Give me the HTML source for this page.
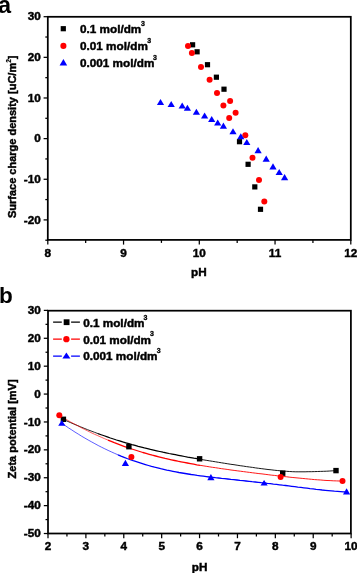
<!DOCTYPE html>
<html><head><meta charset="utf-8"><style>
html,body{margin:0;padding:0;background:#fff;width:357px;height:573px;overflow:hidden}
svg{display:block}
</style></head><body>
<svg width="357" height="573" viewBox="0 0 357 573"><text x="-2" y="12.6" font-size="23.5" font-family="'Liberation Sans', Arial, sans-serif" font-weight="bold">a</text>
<rect x="47.8" y="16.8" width="303.00" height="223.10" fill="none" stroke="#000" stroke-width="1.75"/>
<line x1="43.60" y1="16.70" x2="47.80" y2="16.70" stroke="#000" stroke-width="1.25"/>
<line x1="43.60" y1="57.34" x2="47.80" y2="57.34" stroke="#000" stroke-width="1.25"/>
<line x1="43.60" y1="97.98" x2="47.80" y2="97.98" stroke="#000" stroke-width="1.25"/>
<line x1="43.60" y1="138.62" x2="47.80" y2="138.62" stroke="#000" stroke-width="1.25"/>
<line x1="43.60" y1="179.26" x2="47.80" y2="179.26" stroke="#000" stroke-width="1.25"/>
<line x1="43.60" y1="219.90" x2="47.80" y2="219.90" stroke="#000" stroke-width="1.25"/>
<line x1="45.30" y1="37.02" x2="47.80" y2="37.02" stroke="#000" stroke-width="1.25"/>
<line x1="45.30" y1="77.66" x2="47.80" y2="77.66" stroke="#000" stroke-width="1.25"/>
<line x1="45.30" y1="118.30" x2="47.80" y2="118.30" stroke="#000" stroke-width="1.25"/>
<line x1="45.30" y1="158.94" x2="47.80" y2="158.94" stroke="#000" stroke-width="1.25"/>
<line x1="45.30" y1="199.58" x2="47.80" y2="199.58" stroke="#000" stroke-width="1.25"/>
<line x1="45.30" y1="240.22" x2="47.80" y2="240.22" stroke="#000" stroke-width="1.25"/>
<text transform="translate(40.70,20.30) scale(1.03,1)" text-anchor="end" font-size="11.4" font-family="'Liberation Sans', Arial, sans-serif" font-weight="bold" stroke="#000" stroke-width="0.45">30</text>
<text transform="translate(40.70,60.94) scale(1.03,1)" text-anchor="end" font-size="11.4" font-family="'Liberation Sans', Arial, sans-serif" font-weight="bold" stroke="#000" stroke-width="0.45">20</text>
<text transform="translate(40.70,101.58) scale(1.03,1)" text-anchor="end" font-size="11.4" font-family="'Liberation Sans', Arial, sans-serif" font-weight="bold" stroke="#000" stroke-width="0.45">10</text>
<text transform="translate(40.70,142.22) scale(1.03,1)" text-anchor="end" font-size="11.4" font-family="'Liberation Sans', Arial, sans-serif" font-weight="bold" stroke="#000" stroke-width="0.45">0</text>
<text transform="translate(40.70,182.86) scale(1.03,1)" text-anchor="end" font-size="11.4" font-family="'Liberation Sans', Arial, sans-serif" font-weight="bold" stroke="#000" stroke-width="0.45">-10</text>
<text transform="translate(40.70,223.50) scale(1.03,1)" text-anchor="end" font-size="11.4" font-family="'Liberation Sans', Arial, sans-serif" font-weight="bold" stroke="#000" stroke-width="0.45">-20</text>
<line x1="47.80" y1="239.90" x2="47.80" y2="244.60" stroke="#000" stroke-width="1.25"/>
<line x1="123.55" y1="239.90" x2="123.55" y2="244.60" stroke="#000" stroke-width="1.25"/>
<line x1="199.30" y1="239.90" x2="199.30" y2="244.60" stroke="#000" stroke-width="1.25"/>
<line x1="275.05" y1="239.90" x2="275.05" y2="244.60" stroke="#000" stroke-width="1.25"/>
<line x1="350.80" y1="239.90" x2="350.80" y2="244.60" stroke="#000" stroke-width="1.25"/>
<line x1="85.67" y1="239.90" x2="85.67" y2="242.90" stroke="#000" stroke-width="1.25"/>
<line x1="161.43" y1="239.90" x2="161.43" y2="242.90" stroke="#000" stroke-width="1.25"/>
<line x1="237.18" y1="239.90" x2="237.18" y2="242.90" stroke="#000" stroke-width="1.25"/>
<line x1="312.93" y1="239.90" x2="312.93" y2="242.90" stroke="#000" stroke-width="1.25"/>
<text transform="translate(47.80,256.80) scale(1.03,1)" text-anchor="middle" font-size="11.4" font-family="'Liberation Sans', Arial, sans-serif" font-weight="bold" stroke="#000" stroke-width="0.45">8</text>
<text transform="translate(123.55,256.80) scale(1.03,1)" text-anchor="middle" font-size="11.4" font-family="'Liberation Sans', Arial, sans-serif" font-weight="bold" stroke="#000" stroke-width="0.45">9</text>
<text transform="translate(199.30,256.80) scale(1.03,1)" text-anchor="middle" font-size="11.4" font-family="'Liberation Sans', Arial, sans-serif" font-weight="bold" stroke="#000" stroke-width="0.45">10</text>
<text transform="translate(275.05,256.80) scale(1.03,1)" text-anchor="middle" font-size="11.4" font-family="'Liberation Sans', Arial, sans-serif" font-weight="bold" stroke="#000" stroke-width="0.45">11</text>
<text transform="translate(350.80,256.80) scale(1.03,1)" text-anchor="middle" font-size="11.4" font-family="'Liberation Sans', Arial, sans-serif" font-weight="bold" stroke="#000" stroke-width="0.45">12</text>
<text transform="translate(198.90,276.20) scale(1.03,1)" text-anchor="middle" font-size="11.4" font-family="'Liberation Sans', Arial, sans-serif" font-weight="bold" stroke="#000" stroke-width="0.45">pH</text>
<text transform="translate(16.3,218.1) rotate(-90)" font-size="11" font-family="'Liberation Sans', Arial, sans-serif" font-weight="bold" stroke="#000" stroke-width="0.45">Surface charge density [uC/m<tspan font-size="6.5" dy="-5.6" stroke-width="0.2">2</tspan><tspan dy="5.6">]</tspan></text>
<rect x="190.00" y="42.20" width="5.2" height="5.2" fill="#000"/>
<rect x="194.50" y="49.20" width="5.2" height="5.2" fill="#000"/>
<rect x="204.90" y="62.10" width="5.2" height="5.2" fill="#000"/>
<rect x="213.80" y="74.60" width="5.2" height="5.2" fill="#000"/>
<rect x="221.40" y="86.60" width="5.2" height="5.2" fill="#000"/>
<rect x="236.90" y="139.10" width="5.2" height="5.2" fill="#000"/>
<rect x="245.50" y="161.70" width="5.2" height="5.2" fill="#000"/>
<rect x="252.20" y="184.30" width="5.2" height="5.2" fill="#000"/>
<rect x="257.90" y="206.70" width="5.2" height="5.2" fill="#000"/>
<circle cx="188.00" cy="45.90" r="3.00" fill="#f00"/>
<circle cx="191.90" cy="52.90" r="3.00" fill="#f00"/>
<circle cx="201.00" cy="66.90" r="3.00" fill="#f00"/>
<circle cx="209.60" cy="79.80" r="3.00" fill="#f00"/>
<circle cx="217.00" cy="93.00" r="3.00" fill="#f00"/>
<circle cx="230.10" cy="100.90" r="3.00" fill="#f00"/>
<circle cx="223.40" cy="105.60" r="3.00" fill="#f00"/>
<circle cx="235.60" cy="112.70" r="3.00" fill="#f00"/>
<circle cx="229.20" cy="118.00" r="3.00" fill="#f00"/>
<circle cx="245.30" cy="135.20" r="3.00" fill="#f00"/>
<circle cx="252.50" cy="157.70" r="3.00" fill="#f00"/>
<circle cx="259.00" cy="180.00" r="3.00" fill="#f00"/>
<circle cx="264.30" cy="201.60" r="3.00" fill="#f00"/>
<polygon points="160.50,99.10 164.10,105.00 156.90,105.00" fill="#00f"/>
<polygon points="171.20,100.90 174.80,107.10 167.60,107.10" fill="#00f"/>
<polygon points="182.20,102.60 185.80,108.60 178.60,108.60" fill="#00f"/>
<polygon points="187.40,104.70 191.00,110.70 183.80,110.70" fill="#00f"/>
<polygon points="196.40,108.80 200.00,114.80 192.80,114.80" fill="#00f"/>
<polygon points="204.60,112.60 208.20,118.60 201.00,118.60" fill="#00f"/>
<polygon points="211.70,116.10 215.30,122.00 208.10,122.00" fill="#00f"/>
<polygon points="217.70,119.40 221.30,125.50 214.10,125.50" fill="#00f"/>
<polygon points="223.40,122.60 227.00,128.70 219.80,128.70" fill="#00f"/>
<polygon points="233.00,128.20 236.60,134.20 229.40,134.20" fill="#00f"/>
<polygon points="240.80,133.30 244.40,139.20 237.20,139.20" fill="#00f"/>
<polygon points="246.80,138.90 250.40,144.90 243.20,144.90" fill="#00f"/>
<polygon points="258.10,147.00 261.70,153.30 254.50,153.30" fill="#00f"/>
<polygon points="266.20,155.60 269.80,161.70 262.60,161.70" fill="#00f"/>
<polygon points="273.00,163.30 276.60,169.60 269.40,169.60" fill="#00f"/>
<polygon points="279.20,169.00 282.80,175.00 275.60,175.00" fill="#00f"/>
<polygon points="284.60,173.90 288.20,180.20 281.00,180.20" fill="#00f"/>
<rect x="60.70" y="26.10" width="5.2" height="5.2" fill="#000"/>
<circle cx="63.40" cy="45.90" r="3.05" fill="#f00"/>
<polygon points="63.40,58.90 67.20,65.60 59.60,65.60" fill="#00f"/>
<text transform="translate(80.00,32.90) scale(1.03,1)" text-anchor="start" font-size="11.4" font-family="'Liberation Sans', Arial, sans-serif" font-weight="bold" stroke="#000" stroke-width="0.45">0.1 mol/dm</text>
<text transform="translate(141.00,25.70) scale(1.0,1)" text-anchor="start" font-size="7" font-family="'Liberation Sans', Arial, sans-serif" font-weight="bold" stroke="#000" stroke-width="0.3">3</text>
<text transform="translate(80.00,49.90) scale(1.03,1)" text-anchor="start" font-size="11.4" font-family="'Liberation Sans', Arial, sans-serif" font-weight="bold" stroke="#000" stroke-width="0.45">0.01 mol/dm</text>
<text transform="translate(147.20,42.70) scale(1.0,1)" text-anchor="start" font-size="7" font-family="'Liberation Sans', Arial, sans-serif" font-weight="bold" stroke="#000" stroke-width="0.3">3</text>
<text transform="translate(80.00,66.90) scale(1.03,1)" text-anchor="start" font-size="11.4" font-family="'Liberation Sans', Arial, sans-serif" font-weight="bold" stroke="#000" stroke-width="0.45">0.001 mol/dm</text>
<text transform="translate(153.10,59.70) scale(1.0,1)" text-anchor="start" font-size="7" font-family="'Liberation Sans', Arial, sans-serif" font-weight="bold" stroke="#000" stroke-width="0.3">3</text>
<text x="-1" y="302.7" font-size="22.5" font-family="'Liberation Sans', Arial, sans-serif" font-weight="bold">b</text>
<rect x="48.0" y="310.7" width="302.90" height="222.80" fill="none" stroke="#000" stroke-width="1.75"/>
<line x1="43.80" y1="310.40" x2="48.00" y2="310.40" stroke="#000" stroke-width="1.25"/>
<line x1="43.80" y1="338.29" x2="48.00" y2="338.29" stroke="#000" stroke-width="1.25"/>
<line x1="43.80" y1="366.18" x2="48.00" y2="366.18" stroke="#000" stroke-width="1.25"/>
<line x1="43.80" y1="394.07" x2="48.00" y2="394.07" stroke="#000" stroke-width="1.25"/>
<line x1="43.80" y1="421.96" x2="48.00" y2="421.96" stroke="#000" stroke-width="1.25"/>
<line x1="43.80" y1="449.85" x2="48.00" y2="449.85" stroke="#000" stroke-width="1.25"/>
<line x1="43.80" y1="477.74" x2="48.00" y2="477.74" stroke="#000" stroke-width="1.25"/>
<line x1="43.80" y1="505.63" x2="48.00" y2="505.63" stroke="#000" stroke-width="1.25"/>
<line x1="43.80" y1="533.52" x2="48.00" y2="533.52" stroke="#000" stroke-width="1.25"/>
<line x1="45.50" y1="324.34" x2="48.00" y2="324.34" stroke="#000" stroke-width="1.25"/>
<line x1="45.50" y1="352.23" x2="48.00" y2="352.23" stroke="#000" stroke-width="1.25"/>
<line x1="45.50" y1="380.12" x2="48.00" y2="380.12" stroke="#000" stroke-width="1.25"/>
<line x1="45.50" y1="408.01" x2="48.00" y2="408.01" stroke="#000" stroke-width="1.25"/>
<line x1="45.50" y1="435.90" x2="48.00" y2="435.90" stroke="#000" stroke-width="1.25"/>
<line x1="45.50" y1="463.79" x2="48.00" y2="463.79" stroke="#000" stroke-width="1.25"/>
<line x1="45.50" y1="491.68" x2="48.00" y2="491.68" stroke="#000" stroke-width="1.25"/>
<line x1="45.50" y1="519.58" x2="48.00" y2="519.58" stroke="#000" stroke-width="1.25"/>
<text transform="translate(40.70,314.00) scale(1.03,1)" text-anchor="end" font-size="11.4" font-family="'Liberation Sans', Arial, sans-serif" font-weight="bold" stroke="#000" stroke-width="0.45">30</text>
<text transform="translate(40.70,341.89) scale(1.03,1)" text-anchor="end" font-size="11.4" font-family="'Liberation Sans', Arial, sans-serif" font-weight="bold" stroke="#000" stroke-width="0.45">20</text>
<text transform="translate(40.70,369.78) scale(1.03,1)" text-anchor="end" font-size="11.4" font-family="'Liberation Sans', Arial, sans-serif" font-weight="bold" stroke="#000" stroke-width="0.45">10</text>
<text transform="translate(40.70,397.67) scale(1.03,1)" text-anchor="end" font-size="11.4" font-family="'Liberation Sans', Arial, sans-serif" font-weight="bold" stroke="#000" stroke-width="0.45">0</text>
<text transform="translate(40.70,425.56) scale(1.03,1)" text-anchor="end" font-size="11.4" font-family="'Liberation Sans', Arial, sans-serif" font-weight="bold" stroke="#000" stroke-width="0.45">-10</text>
<text transform="translate(40.70,453.45) scale(1.03,1)" text-anchor="end" font-size="11.4" font-family="'Liberation Sans', Arial, sans-serif" font-weight="bold" stroke="#000" stroke-width="0.45">-20</text>
<text transform="translate(40.70,481.34) scale(1.03,1)" text-anchor="end" font-size="11.4" font-family="'Liberation Sans', Arial, sans-serif" font-weight="bold" stroke="#000" stroke-width="0.45">-30</text>
<text transform="translate(40.70,509.23) scale(1.03,1)" text-anchor="end" font-size="11.4" font-family="'Liberation Sans', Arial, sans-serif" font-weight="bold" stroke="#000" stroke-width="0.45">-40</text>
<text transform="translate(40.70,537.12) scale(1.03,1)" text-anchor="end" font-size="11.4" font-family="'Liberation Sans', Arial, sans-serif" font-weight="bold" stroke="#000" stroke-width="0.45">-50</text>
<line x1="48.00" y1="533.50" x2="48.00" y2="538.20" stroke="#000" stroke-width="1.25"/>
<line x1="85.89" y1="533.50" x2="85.89" y2="538.20" stroke="#000" stroke-width="1.25"/>
<line x1="123.78" y1="533.50" x2="123.78" y2="538.20" stroke="#000" stroke-width="1.25"/>
<line x1="161.67" y1="533.50" x2="161.67" y2="538.20" stroke="#000" stroke-width="1.25"/>
<line x1="199.56" y1="533.50" x2="199.56" y2="538.20" stroke="#000" stroke-width="1.25"/>
<line x1="237.45" y1="533.50" x2="237.45" y2="538.20" stroke="#000" stroke-width="1.25"/>
<line x1="275.34" y1="533.50" x2="275.34" y2="538.20" stroke="#000" stroke-width="1.25"/>
<line x1="313.23" y1="533.50" x2="313.23" y2="538.20" stroke="#000" stroke-width="1.25"/>
<line x1="351.12" y1="533.50" x2="351.12" y2="538.20" stroke="#000" stroke-width="1.25"/>
<line x1="66.94" y1="533.50" x2="66.94" y2="536.50" stroke="#000" stroke-width="1.25"/>
<line x1="104.84" y1="533.50" x2="104.84" y2="536.50" stroke="#000" stroke-width="1.25"/>
<line x1="142.72" y1="533.50" x2="142.72" y2="536.50" stroke="#000" stroke-width="1.25"/>
<line x1="180.62" y1="533.50" x2="180.62" y2="536.50" stroke="#000" stroke-width="1.25"/>
<line x1="218.50" y1="533.50" x2="218.50" y2="536.50" stroke="#000" stroke-width="1.25"/>
<line x1="256.39" y1="533.50" x2="256.39" y2="536.50" stroke="#000" stroke-width="1.25"/>
<line x1="294.28" y1="533.50" x2="294.28" y2="536.50" stroke="#000" stroke-width="1.25"/>
<line x1="332.18" y1="533.50" x2="332.18" y2="536.50" stroke="#000" stroke-width="1.25"/>
<text transform="translate(48.00,550.20) scale(1.03,1)" text-anchor="middle" font-size="11.4" font-family="'Liberation Sans', Arial, sans-serif" font-weight="bold" stroke="#000" stroke-width="0.45">2</text>
<text transform="translate(85.89,550.20) scale(1.03,1)" text-anchor="middle" font-size="11.4" font-family="'Liberation Sans', Arial, sans-serif" font-weight="bold" stroke="#000" stroke-width="0.45">3</text>
<text transform="translate(123.78,550.20) scale(1.03,1)" text-anchor="middle" font-size="11.4" font-family="'Liberation Sans', Arial, sans-serif" font-weight="bold" stroke="#000" stroke-width="0.45">4</text>
<text transform="translate(161.67,550.20) scale(1.03,1)" text-anchor="middle" font-size="11.4" font-family="'Liberation Sans', Arial, sans-serif" font-weight="bold" stroke="#000" stroke-width="0.45">5</text>
<text transform="translate(199.56,550.20) scale(1.03,1)" text-anchor="middle" font-size="11.4" font-family="'Liberation Sans', Arial, sans-serif" font-weight="bold" stroke="#000" stroke-width="0.45">6</text>
<text transform="translate(237.45,550.20) scale(1.03,1)" text-anchor="middle" font-size="11.4" font-family="'Liberation Sans', Arial, sans-serif" font-weight="bold" stroke="#000" stroke-width="0.45">7</text>
<text transform="translate(275.34,550.20) scale(1.03,1)" text-anchor="middle" font-size="11.4" font-family="'Liberation Sans', Arial, sans-serif" font-weight="bold" stroke="#000" stroke-width="0.45">8</text>
<text transform="translate(313.23,550.20) scale(1.03,1)" text-anchor="middle" font-size="11.4" font-family="'Liberation Sans', Arial, sans-serif" font-weight="bold" stroke="#000" stroke-width="0.45">9</text>
<text transform="translate(351.12,550.20) scale(1.03,1)" text-anchor="middle" font-size="11.4" font-family="'Liberation Sans', Arial, sans-serif" font-weight="bold" stroke="#000" stroke-width="0.45">10</text>
<text transform="translate(199.60,570.70) scale(1.03,1)" text-anchor="middle" font-size="11.4" font-family="'Liberation Sans', Arial, sans-serif" font-weight="bold" stroke="#000" stroke-width="0.45">pH</text>
<text transform="translate(16.3,478.4) rotate(-90)" font-size="11" font-family="'Liberation Sans', Arial, sans-serif" font-weight="bold" stroke="#000" stroke-width="0.45">Zeta potential [mV]</text>
<path d="M63.4,419.5 L66.9,421.0 L70.3,422.5 L73.8,424.0 L77.2,425.4 L80.7,426.9 L84.2,428.3 L87.6,429.7 L91.1,431.0 L94.5,432.3 L98.0,433.6" fill="none" stroke="#000" stroke-width="1.0" stroke-opacity="0.85" stroke-linejoin="round"/>
<path d="M98.0,433.6 L101.1,434.7 L104.2,435.8 L107.3,436.9 L110.4,438.0 L113.5,439.0 L116.5,440.0 L119.6,440.9 L122.7,441.9 L125.8,442.8 L128.9,443.7 L132.0,444.6 L135.1,445.4 L138.2,446.3 L141.3,447.1 L144.4,447.9 L147.5,448.6 L150.5,449.4 L153.6,450.1 L156.7,450.8 L159.8,451.5 L162.9,452.2 L166.0,452.8 L169.1,453.5 L172.2,454.1 L175.3,454.7 L178.4,455.3 L181.5,455.9 L184.5,456.5 L187.6,457.1 L190.7,457.6 L193.8,458.2 L196.9,458.7 L200.0,459.2" fill="none" stroke="#000" stroke-width="1.2" stroke-opacity="1" stroke-linejoin="round"/>
<path d="M200.0,459.2 L203.1,459.8 L206.2,460.3 L209.3,460.8 L212.4,461.3 L215.5,461.8 L218.5,462.3 L221.6,462.8 L224.7,463.3 L227.8,463.8 L230.9,464.3 L234.0,464.7 L237.1,465.2 L240.2,465.7 L243.3,466.1 L246.4,466.6 L249.5,467.0 L252.5,467.4 L255.6,467.9 L258.7,468.3 L261.8,468.7 L264.9,469.1 L268.0,469.5 L271.1,469.8 L274.2,470.2 L277.3,470.5 L280.4,470.8 L283.5,471.1 L286.5,471.3 L289.6,471.5 L292.7,471.7 L295.8,471.8 L298.9,471.8 L302.0,471.8 L305.1,471.8 L308.2,471.7 L311.3,471.7 L314.4,471.6 L317.5,471.5 L320.5,471.4 L323.6,471.3 L326.7,471.2 L329.8,471.0 L332.9,470.8 L336.0,470.6" fill="none" stroke="#000" stroke-width="1.0" stroke-opacity="0.9" stroke-linejoin="round"/>
<path d="M60.5,416.2 L63.9,418.2 L67.3,420.1 L70.7,422.0 L74.1,423.9 L77.5,425.7 L80.9,427.5 L84.2,429.2 L87.6,430.9 L91.0,432.6 L94.4,434.2 L97.8,435.7 L101.2,437.2 L104.6,438.7 L108.0,440.1" fill="none" stroke="#f00" stroke-width="0.8" stroke-opacity="0.8" stroke-linejoin="round"/>
<path d="M108.0,440.1 L111.2,441.4 L114.3,442.7 L117.5,443.9 L120.7,445.1 L123.9,446.3 L127.0,447.4 L130.2,448.5 L133.4,449.5 L136.6,450.5 L139.7,451.5 L142.9,452.5 L146.1,453.4 L149.2,454.3 L152.4,455.2 L155.6,456.0 L158.8,456.8 L161.9,457.6 L165.1,458.4 L168.3,459.1 L171.4,459.8 L174.6,460.5 L177.8,461.2 L181.0,461.8 L184.1,462.4 L187.3,463.0 L190.5,463.6 L193.7,464.2 L196.8,464.8 L200.0,465.3" fill="none" stroke="#f00" stroke-width="1.3" stroke-opacity="1" stroke-linejoin="round"/>
<path d="M200.0,465.3 L203.1,465.8 L206.2,466.3 L209.3,466.8 L212.4,467.3 L215.5,467.7 L218.6,468.2 L221.7,468.7 L224.8,469.1 L227.9,469.5 L231.0,470.0 L234.1,470.4 L237.2,470.8 L240.3,471.2 L243.4,471.6 L246.5,472.0 L249.6,472.4 L252.7,472.8 L255.8,473.2 L258.9,473.6 L262.0,473.9 L265.1,474.3 L268.2,474.7 L271.2,475.1 L274.3,475.4 L277.4,475.8 L280.5,476.1 L283.6,476.5 L286.7,476.8 L289.8,477.2 L292.9,477.5 L296.0,477.8 L299.1,478.1 L302.2,478.4 L305.3,478.7 L308.4,479.0 L311.5,479.3 L314.6,479.6 L317.7,479.8 L320.8,480.0 L323.9,480.3 L327.0,480.5 L330.1,480.6 L333.2,480.8 L336.3,480.9 L339.4,481.0 L342.5,481.1" fill="none" stroke="#f00" stroke-width="1.0" stroke-opacity="0.9" stroke-linejoin="round"/>
<path d="M61.8,423.3 L65.1,425.5 L68.4,427.8 L71.7,429.9 L75.0,432.1 L78.3,434.1 L81.6,436.2 L84.9,438.1 L88.2,440.0 L91.6,441.9 L94.9,443.7 L98.2,445.5 L101.5,447.2 L104.8,448.8 L108.1,450.4 L111.4,451.9 L114.7,453.4 L118.0,454.8" fill="none" stroke="#00f" stroke-width="0.8" stroke-opacity="0.8" stroke-linejoin="round"/>
<path d="M118.0,454.8 L121.0,456.1 L124.1,457.3 L127.1,458.5 L130.2,459.6 L133.2,460.7 L136.3,461.7 L139.3,462.7 L142.4,463.7 L145.4,464.6 L148.5,465.5 L151.5,466.4 L154.6,467.2 L157.6,467.9 L160.7,468.7 L163.7,469.4 L166.8,470.1 L169.8,470.7 L172.9,471.3 L175.9,471.9 L179.0,472.5 L182.0,473.0 L185.1,473.5 L188.1,474.0 L191.2,474.5 L194.2,474.9 L197.2,475.4 L200.3,475.8 L203.3,476.2 L206.4,476.6 L209.4,477.0 L212.5,477.3 L215.5,477.7 L218.6,478.0 L221.6,478.4 L224.7,478.7 L227.7,479.0 L230.8,479.4 L233.8,479.7 L236.9,480.0 L239.9,480.4 L243.0,480.7 L246.0,481.0 L249.1,481.3 L252.1,481.7 L255.2,482.0 L258.2,482.3 L261.3,482.7 L264.3,483.0 L267.4,483.4 L270.4,483.7 L273.4,484.1 L276.5,484.4 L279.5,484.8 L282.6,485.2 L285.6,485.5 L288.7,485.9 L291.7,486.3 L294.8,486.7 L297.8,487.1 L300.9,487.4 L303.9,487.8 L307.0,488.2 L310.0,488.6 L313.1,488.9 L316.1,489.3 L319.2,489.6 L322.2,490.0 L325.3,490.3 L328.3,490.6 L331.4,490.9 L334.4,491.2 L337.5,491.4 L340.5,491.6 L343.6,491.8 L346.6,492.0" fill="none" stroke="#00f" stroke-width="1.3" stroke-opacity="1" stroke-linejoin="round"/>
<rect x="60.70" y="416.60" width="5.4" height="5.4" fill="#000"/>
<rect x="126.20" y="444.00" width="5.4" height="5.4" fill="#000"/>
<rect x="196.90" y="456.10" width="5.4" height="5.4" fill="#000"/>
<rect x="280.00" y="470.50" width="5.4" height="5.4" fill="#000"/>
<rect x="333.30" y="467.90" width="5.4" height="5.4" fill="#000"/>
<circle cx="59.30" cy="415.20" r="3.00" fill="#f00"/>
<circle cx="131.40" cy="457.10" r="3.00" fill="#f00"/>
<circle cx="280.60" cy="477.00" r="3.00" fill="#f00"/>
<circle cx="342.50" cy="481.10" r="3.00" fill="#f00"/>
<polygon points="61.80,420.10 65.40,425.70 58.20,425.70" fill="#00f"/>
<polygon points="125.40,459.70 129.00,466.10 121.80,466.10" fill="#00f"/>
<polygon points="210.90,474.10 214.50,480.30 207.30,480.30" fill="#00f"/>
<polygon points="264.10,479.90 267.70,485.60 260.50,485.60" fill="#00f"/>
<polygon points="346.60,488.30 350.20,494.50 343.00,494.50" fill="#00f"/>
<path d="M53.1,322.2H61.8M71.1,322.2H79.9" stroke="#000" stroke-width="1.2" fill="none"/>
<path d="M53.1,339.1H61.8M71.1,339.1H79.9" stroke="#f00" stroke-width="1.2" fill="none"/>
<path d="M53.1,356.2H61.8M71.1,356.2H79.9" stroke="#00f" stroke-width="1.2" fill="none"/>
<rect x="63.70" y="319.30" width="5.8" height="5.8" fill="#000"/>
<circle cx="66.40" cy="339.20" r="3.15" fill="#f00"/>
<polygon points="66.40,352.40 70.40,358.50 62.40,358.50" fill="#00f"/>
<text transform="translate(83.20,326.70) scale(1.03,1)" text-anchor="start" font-size="11.4" font-family="'Liberation Sans', Arial, sans-serif" font-weight="bold" stroke="#000" stroke-width="0.45">0.1 mol/dm</text>
<text transform="translate(143.50,319.50) scale(1.0,1)" text-anchor="start" font-size="7" font-family="'Liberation Sans', Arial, sans-serif" font-weight="bold" stroke="#000" stroke-width="0.3">3</text>
<text transform="translate(83.20,343.50) scale(1.03,1)" text-anchor="start" font-size="11.4" font-family="'Liberation Sans', Arial, sans-serif" font-weight="bold" stroke="#000" stroke-width="0.45">0.01 mol/dm</text>
<text transform="translate(149.90,336.30) scale(1.0,1)" text-anchor="start" font-size="7" font-family="'Liberation Sans', Arial, sans-serif" font-weight="bold" stroke="#000" stroke-width="0.3">3</text>
<text transform="translate(83.20,360.30) scale(1.03,1)" text-anchor="start" font-size="11.4" font-family="'Liberation Sans', Arial, sans-serif" font-weight="bold" stroke="#000" stroke-width="0.45">0.001 mol/dm</text>
<text transform="translate(156.80,353.10) scale(1.0,1)" text-anchor="start" font-size="7" font-family="'Liberation Sans', Arial, sans-serif" font-weight="bold" stroke="#000" stroke-width="0.3">3</text></svg>
</body></html>
